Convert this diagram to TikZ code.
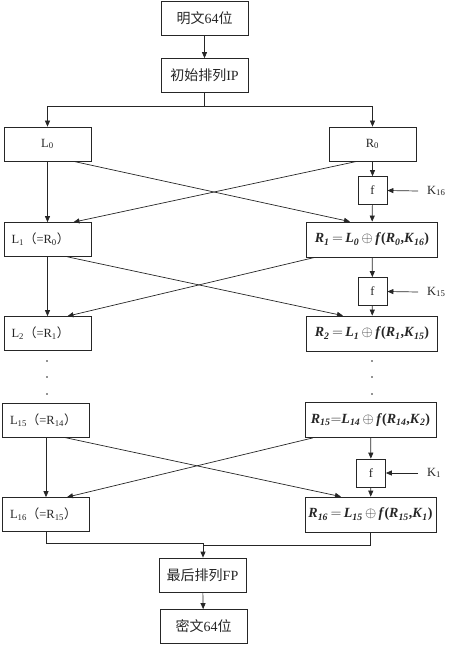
\documentclass[tikz,border=0pt]{standalone}
\usepackage{fontspec}
\setmainfont{Liberation Serif}
\newfontfamily\cjk{Noto Sans CJK SC}
\usetikzlibrary{arrows.meta,calc}
\newcommand{\fmR}[2]{\textbf{\textit{#1}}\textsubscript{\textbf{\textit{#2}}}}
\tikzset{
  box/.style={draw=black!85, line width=0.7pt, minimum width=87pt, minimum height=34pt, inner sep=1pt, font=\fontsize{14}{16}\selectfont, text=black!85},
  lbox/.style={box, font=\fontsize{12.5}{14}\selectfont, align=left, text width=72pt},
  rbox/.style={box, minimum width=131pt, minimum height=35pt, font=\fontsize{14}{16}\selectfont},
  fbox/.style={box, minimum width=29pt, minimum height=28pt, font=\fontsize{12.5}{14}\selectfont},
  klab/.style={anchor=west, inner sep=0pt, font=\fontsize{12.5}{14}\selectfont, text=black!85},
  conn/.style={line width=0.7pt, draw=black!85},
  arr/.style={conn, -{Triangle[length=6pt,width=5pt]}},
  dotn/.style={circle, fill=black!85, inner sep=0pt, minimum size=1.8pt}
}
\begin{document}
\begin{tikzpicture}[x=1pt,y=-1pt]
\useasboundingbox (0,0) rectangle (461,647);
% top
\node[box] (m) at (204.5,18.5) {{\cjk 明文}64{\cjk 位}};
\node[box] (ip) at (204.5,75.5) {{\cjk 初始排列}IP};
% round 1
\node[box, font=\fontsize{12.5}{14}\selectfont] (L0) at (47.5,144) {L\textsubscript{0}};
\node[box, font=\fontsize{12.5}{14}\selectfont] (R0) at (372.5,144) {R\textsubscript{0}};
\node[fbox] (f1) at (372.5,190.5) {f};
\node[klab] (K16) at (427,191) {K\textsubscript{16}};
\node[lbox] (L1) at (47.5,239.5) {L\textsubscript{1}{\cjk （}=R\textsubscript{0}{\cjk ）}};
\node[rbox] (R1) at (372,239.5) {\fmR{R}{1}$\,=\,$\fmR{L}{0}$\,\oplus\,$\textbf{\textit{f}}\textbf{(}\fmR{R}{0}\textbf{,}\fmR{K}{16}\textbf{)}};
% round 2
\node[fbox] (f2) at (372.5,291.5) {f};
\node[klab] (K15) at (427,292) {K\textsubscript{15}};
\node[lbox] (L2) at (47.5,333.5) {L\textsubscript{2}{\cjk （}=R\textsubscript{1}{\cjk ）}};
\node[rbox] (R2) at (372,333.5) {\fmR{R}{2}$\,=\,$\fmR{L}{1}$\,\oplus\,$\textbf{\textit{f}}\textbf{(}\fmR{R}{1}\textbf{,}\fmR{K}{15}\textbf{)}};
% dots
\foreach \yy [count=\i] in {361,377,394}{
  \node[dotn] (dl\i) at (47,\yy) {};
  \node[dotn] (dr\i) at (372,\yy) {};
}
% round 16
\node[lbox] (L15) at (46,420) {L\textsubscript{15}{\cjk （}=R\textsubscript{14}{\cjk ）}};
\node[rbox] (R15) at (370.5,420) {\fmR{R}{15}$=$\fmR{L}{14}$\,\oplus\,$\textbf{\textit{f}}\textbf{(}\fmR{R}{14}\textbf{,}\fmR{K}{2}\textbf{)}};
\node[fbox] (f3) at (371,473) {f};
\node[klab] (K1) at (427,473) {K\textsubscript{1}};
\node[lbox] (L16) at (46,514.5) {L\textsubscript{16}{\cjk （}=R\textsubscript{15}{\cjk ）}};
\node[rbox] (R16) at (370.5,514.5) {\fmR{R}{16}$\,=\,$\fmR{L}{15}$\,\oplus\,$\textbf{\textit{f}}\textbf{(}\fmR{R}{15}\textbf{,}\fmR{K}{1}\textbf{)}};
% bottom
\node[box] (fp) at (202.5,575) {{\cjk 最后排列}FP};
\node[box] (c) at (203.5,626.5) {{\cjk 密文}64{\cjk 位}};

\coordinate (split) at (204.5,106);
\coordinate (join) at (203,543);

% connectors
\draw[arr] (m) -- (ip);
\draw[conn] (ip) -- (split);
\draw[arr] (split) -| (L0.north);
\draw[arr] (split) -| (R0.north);
\draw[arr] (L0) -- (L1);
\draw[arr] (R0) -- (f1);
\draw[arr] (f1) -- (R1);
\draw[arr] (K16.west) ++(-9,0) -- (f1.east);
\draw[arr] ([xshift=26pt]L0.south) -- ([xshift=-22pt]R1.north);
\draw[arr] ([xshift=-15.5pt]R0.south) -- ([xshift=26pt]L1.north);
% round 2
\draw[arr] (L1) -- (L2);
\draw[arr] (R1) -- (f2);
\draw[arr] (f2) -- (R2);
\draw[arr] (K15.west) ++(-9,0) -- (f2.east);
\draw[arr] ([xshift=20pt]L1.south) -- ([xshift=-29pt]R2.north);
\draw[arr] ([xshift=-57pt]R1.south) -- ([xshift=20pt]L2.north);
% round 16
\draw[arr] (L15) -- (L16);
\draw[arr] (R15) -- (f3);
\draw[arr] (f3) -- (R16);
\draw[arr] (K1.west) ++(-9,0) -- (f3.east);
\draw[arr] ([xshift=18pt]L15.south) -- ([xshift=-29.5pt]R16.north);
\draw[arr] ([xshift=-57.5pt]R15.south) -- ([xshift=21pt]L16.north);
% bottom
\draw[conn] (L16.south) |- (join);
\draw[conn] (R16.south) |- ($(join)+(0,2)$);
\draw[arr] (join) -- (fp.north -| join);
\draw[arr] (fp) -- (c);
\end{tikzpicture}
\end{document}
